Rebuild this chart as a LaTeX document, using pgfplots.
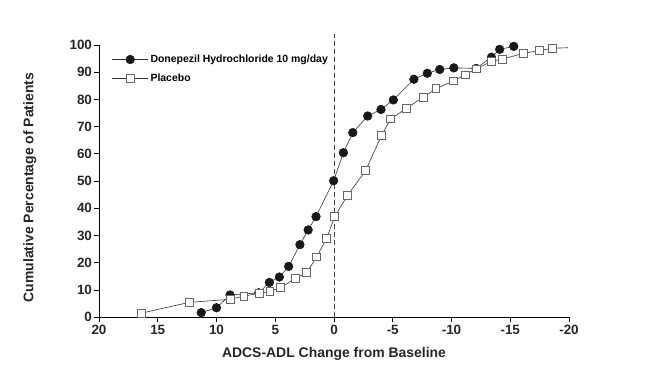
\documentclass[border=0pt]{standalone}
\usepackage{pgfplots}
\pgfplotsset{compat=1.18}
\usepackage{fontspec}
\setmainfont{Liberation Sans}
\begin{document}
\begin{tikzpicture}
\useasboundingbox (-99bp,-62bp) rectangle (558bp,317bp);
\begin{axis}[
  at={(0,0)}, anchor=south west,
  scale only axis, width=470bp, height=272bp,
  x dir=reverse, xmin=-20, xmax=20, ymin=0, ymax=100,
  axis x line*=bottom, axis y line*=left,
  xtick={-20,-15,...,20}, ytick={0,10,...,100},
  xticklabels={-20,-15,-10,-5,0,5,10,15,20},
  tick align=outside, major tick length=4.5bp,
  tick style={black, line width=0.6pt},
  axis line style={line width=0.8pt},
  ticklabel style={font=\fontsize{13.5}{15}\selectfont\bfseries, text=black!85},
  /pgf/number format/assume math mode=true,
  xticklabel style={yshift=0bp},
  yticklabel style={xshift=1bp},
  xlabel={ADCS-ADL Change from Baseline},
  ylabel={Cumulative Percentage of Patients},
  every axis x label/.style={at={(axis description cs:0.5,-0.137)},anchor=center,font=\fontsize{14}{16}\selectfont\bfseries, text=black!85},
  every axis y label/.style={at={(axis description cs:-0.147,0.476)},rotate=90,anchor=center,font=\fontsize{14}{16}\selectfont\bfseries, text=black!85},
  clip=false,
  legend style={draw=none, fill=none, at={(axis description cs:0.025,0.975)}, anchor=north west,
    font=\fontsize{10.5}{12}\selectfont\bfseries, row sep=5.5bp, inner sep=1bp},
  legend cell align=left,
  legend image code/.code={\draw[mark repeat=2,mark phase=2,#1] plot coordinates {(0bp,0bp)(18bp,0bp)(36bp,0bp)};},
]
\addplot[black!75, line width=0.7pt, dash pattern=on 5pt off 3pt, forget plot] coordinates {(0,0)(0,104)};
\addplot[black!80, line width=0.6pt, mark=*, mark size=4.3bp, mark options={fill=black!90, draw=black!90}] coordinates {
(11.3,1.6)(10.0,3.4)(8.85,8.1)(6.4,8.9)(5.5,12.7)(4.65,14.7)(3.86,18.6)(2.9,26.6)(2.2,32.0)(1.53,36.9)(0.03,50.1)(-0.8,60.4)(-1.6,67.8)(-2.87,73.9)(-4.0,76.3)(-5.05,79.8)(-6.8,87.4)(-7.94,89.6)(-9.0,91.0)(-10.2,91.6)(-12.1,91.4)(-13.4,95.5)(-14.1,98.4)(-15.3,99.5)};
\addlegendentry{Donepezil Hydrochloride 10 mg/day}
\addplot[black!80, line width=0.6pt, mark=square*, mark size=3.9bp, mark options={fill=white, draw=black!60, line width=0.8pt}] coordinates {
(16.4,1.4)(12.3,5.4)(8.8,6.5)(7.66,7.7)(6.36,8.7)(5.45,9.4)(4.54,10.9)(3.3,14.1)(2.33,16.3)(1.47,22.1)(0.62,29.0)(-0.06,36.9)(-1.13,44.6)(-2.7,53.9)(-4.06,66.9)(-4.83,72.8)(-6.19,76.8)(-7.6,80.8)(-8.68,83.9)(-10.15,86.8)(-11.15,89.0)(-12.1,91.2)(-13.4,94.0)(-14.3,94.8)(-16.1,96.9)(-17.5,98.0)(-18.6,98.8)};
\addlegendentry{Placebo}
\addplot[black!80, line width=0.6pt, forget plot] coordinates {(-18.6,98.8)(-19.9,99.0)};
\end{axis}
\end{tikzpicture}
\end{document}
